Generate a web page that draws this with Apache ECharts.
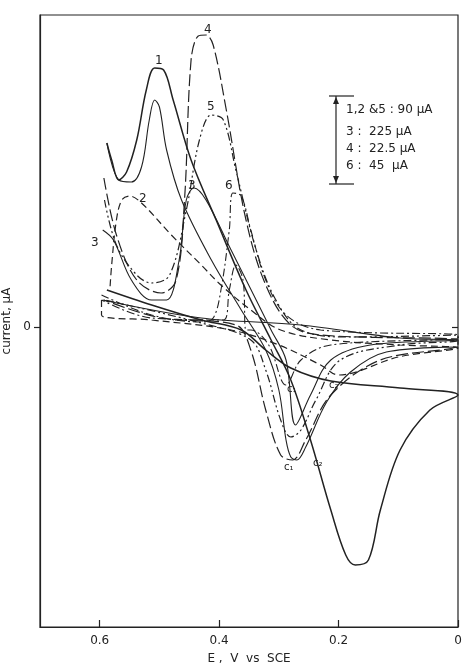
<!DOCTYPE html>
<html><head><meta charset="utf-8">
<script src="https://cdn.jsdelivr.net/npm/echarts@6/dist/echarts.min.js"></script>
<style>html,body{margin:0;padding:0;background:#fff}#c{width:474px;height:670px}</style>
</head><body><div id="c"></div>
<script>
const xTicks = [0, 0.2, 0.4, 0.6];
const yTicks = [0];
const curve1 = [[0.588,18.4],[0.58,16.7],[0.568,14.7],[0.555,15.5],[0.538,18.7],[0.522,23.7],[0.508,25.9],[0.493,25.7],[0.477,22.7],[0.447,16.7],[0.405,10.7],[0.355,3.7],[0.313,-1.3],[0.28,-5.3],[0.247,-11.3],[0.213,-18.3],[0.188,-22.8],[0.172,-23.8],[0.15,-23.3],[0.13,-18.3],[0.097,-12.3],[0.047,-8.3],[0,-6.8],[0.097,-6.1],[0.213,-5.4],[0.28,-4.1],[0.322,-2.3],[0.363,-0.3],[0.43,0.7],[0.513,2.2],[0.588,3.7]];
const curve1b = [[0.588,18.4],[0.568,14.7],[0.547,14.5],[0.53,16.0],[0.517,20.7],[0.508,22.7],[0.5,22.0],[0.488,17.7],[0.463,12.7],[0.413,6.7],[0.363,1.7],[0.322,-2.3],[0.3,-6.3],[0.288,-11.3],[0.28,-13.0],[0.27,-13.3],[0.255,-12.0],[0.22,-7.5],[0.18,-4.5],[0.12,-2.5],[0,-2.0]];
const curve2 = [[0.597,2.7],[0.597,1.2],[0.513,0.7],[0.38,-0.3],[0.3,-1.8],[0.23,-3.8],[0.2,-4.8],[0.1,-3.0],[0,-2.1],[0.097,-1.8],[0.213,-1.3],[0.297,-0.3],[0.347,1.7],[0.397,4.2],[0.43,6.2],[0.48,9.2],[0.53,12.4],[0.55,13.1],[0.563,12.7],[0.572,10.7],[0.58,6.2],[0.583,3.7]];
const curve3 = [[0.595,9.7],[0.577,8.7],[0.547,4.7],[0.513,2.7],[0.488,2.7],[0.467,6.7],[0.455,12.7],[0.442,13.9],[0.422,12.7],[0.38,7.7],[0.338,2.7],[0.313,-0.3],[0.288,-3.3],[0.272,-9.8],[0.247,-6.8],[0.213,-3.3],[0.147,-1.8],[0,-1.3],[0.097,-1.1],[0.263,0.2],[0.43,0.9],[0.595,2.7]];
const curve4 = [[0.593,14.9],[0.572,9.2],[0.538,4.7],[0.497,3.4],[0.472,4.7],[0.458,12.7],[0.447,26.7],[0.435,29.1],[0.422,29.2],[0.41,28.2],[0.388,21.7],[0.355,10.7],[0.322,4.2],[0.28,0.2],[0.23,-0.8],[0,-1.3],[0,-1.8],[0.13,-3.3],[0.213,-6.8],[0.255,-11.3],[0.277,-13.3],[0.297,-12.8],[0.322,-8.3],[0.347,-2.3],[0.372,0.2],[0.497,0.9],[0.593,2.7]];
const curve5 = [[0.592,12.7],[0.572,8.2],[0.538,5.2],[0.513,4.4],[0.483,5.2],[0.455,11.7],[0.433,18.7],[0.413,21.2],[0.393,20.7],[0.372,15.7],[0.338,7.7],[0.305,2.7],[0.263,-0.3],[0.18,-1.0],[0,-0.8],[0,-1.3],[0.097,-1.8],[0.197,-3.3],[0.238,-7.3],[0.263,-10.3],[0.28,-11.0],[0.297,-9.3],[0.322,-4.3],[0.347,-1.3],[0.43,0.4],[0.592,2.7]];
const curve6 = [[0.597,3.2],[0.513,1.2],[0.43,0.5],[0.41,0.9],[0.397,3.7],[0.383,9.7],[0.377,13.4],[0.363,13.1],[0.347,9.7],[0.322,4.7],[0.288,1.2],[0.23,-0.3],[0,-0.8],[0,-1.1],[0.213,-1.8],[0.263,-3.3],[0.288,-5.8],[0.317,-1.8],[0.347,-0.3],[0.355,-0.3],[0.36,4.7],[0.372,6.2],[0.383,3.7],[0.393,0.7],[0.513,0.9],[0.597,2.7]];
const legendLines = ['1,2 &5 : 90 μA','3 :  225 μA','4 :  22.5 μA','6 :  45  μA'];

const F = 'DejaVu Sans';
const mk = (d, type, w) => ({type:'line', data:d, smooth:0.35, showSymbol:false, silent:true,
  lineStyle:{color:'#222', width:w||1.1, type:type}});
const chart = echarts.init(document.getElementById('c'));
const txt = (x,y,t,s) => ({type:'text', left:x, top:y, style:{text:t, font:(s||12)+'px '+F, fill:'#222'}});
chart.setOption({
  animation:false,
  grid:{left:40,right:16,top:15,bottom:43,show:true,borderColor:'#222',borderWidth:1.2,outerBoundsMode:'none',containLabel:false},
  xAxis:{type:'value',min:0,max:0.7,inverse:true,
    axisLine:{onZero:false,lineStyle:{color:'#222',width:1.2}},
    axisTick:{inside:true,length:7,customValues:xTicks,lineStyle:{color:'#222',width:1.2}},
    axisLabel:{customValues:xTicks,color:'#222',fontFamily:F,fontSize:12,margin:8},
    splitLine:{show:false},
    name:'E ,  V  vs  SCE',nameLocation:'middle',nameGap:26,nameTextStyle:{color:'#222',fontFamily:F,fontSize:12}},
  yAxis:[{type:'value',min:-30,max:31.2,
    axisLine:{show:true,onZero:false,lineStyle:{color:'#222',width:1.2}},
    axisTick:{show:true,customValues:yTicks,length:6,lineStyle:{color:'#222',width:1.2}},
    axisLabel:{customValues:yTicks,color:'#222',fontFamily:F,fontSize:12,margin:9},
    splitLine:{show:false},
    name:'current, μA',nameLocation:'middle',nameGap:21,nameTextStyle:{color:'#222',fontFamily:F,fontSize:12}},
   {type:'value',min:-30,max:31.2,position:'right',
    axisLine:{show:false},
    axisTick:{show:true,inside:true,customValues:yTicks,length:6,lineStyle:{color:'#222',width:1.2}},
    axisLabel:{show:false},splitLine:{show:false}}],
  series:[
    mk(curve1,'solid',1.5), mk(curve1b,'solid',1.1), mk(curve2,[7,4],1.2),
    mk(curve3,'solid',1.1), mk(curve4,[12,4],1.2), mk(curve5,[8,3,2,3,2,3],1.2), mk(curve6,[8,3,2,3],1.1)
  ],
  graphic:[
    {type:'line',shape:{x1:336,y1:96,x2:336,y2:184},style:{stroke:'#222',lineWidth:1.2}},
    {type:'line',shape:{x1:329,y1:96,x2:354,y2:96},style:{stroke:'#222',lineWidth:1.2}},
    {type:'line',shape:{x1:329,y1:184,x2:354,y2:184},style:{stroke:'#222',lineWidth:1.2}},
    {type:'polygon',shape:{points:[[333,104],[339,104],[336,97]]},style:{fill:'#222'}},
    {type:'polygon',shape:{points:[[333,176],[339,176],[336,183]]},style:{fill:'#222'}},
    txt(346,104,legendLines[0]), txt(346,126,legendLines[1]), txt(346,143,legendLines[2]), txt(346,160,legendLines[3]),
    txt(155,55,'1'), txt(204,24,'4'), txt(207,101,'5'), txt(188,180,'3'), txt(225,180,'6'),
    txt(139,193,'2'), txt(91,237,'3'),
    txt(287,384,'c₁',10), txt(329,380,'c₂',10), txt(284,462,'c₁',10), txt(313,458,'c₂',10)
  ]
});
</script></body></html>
